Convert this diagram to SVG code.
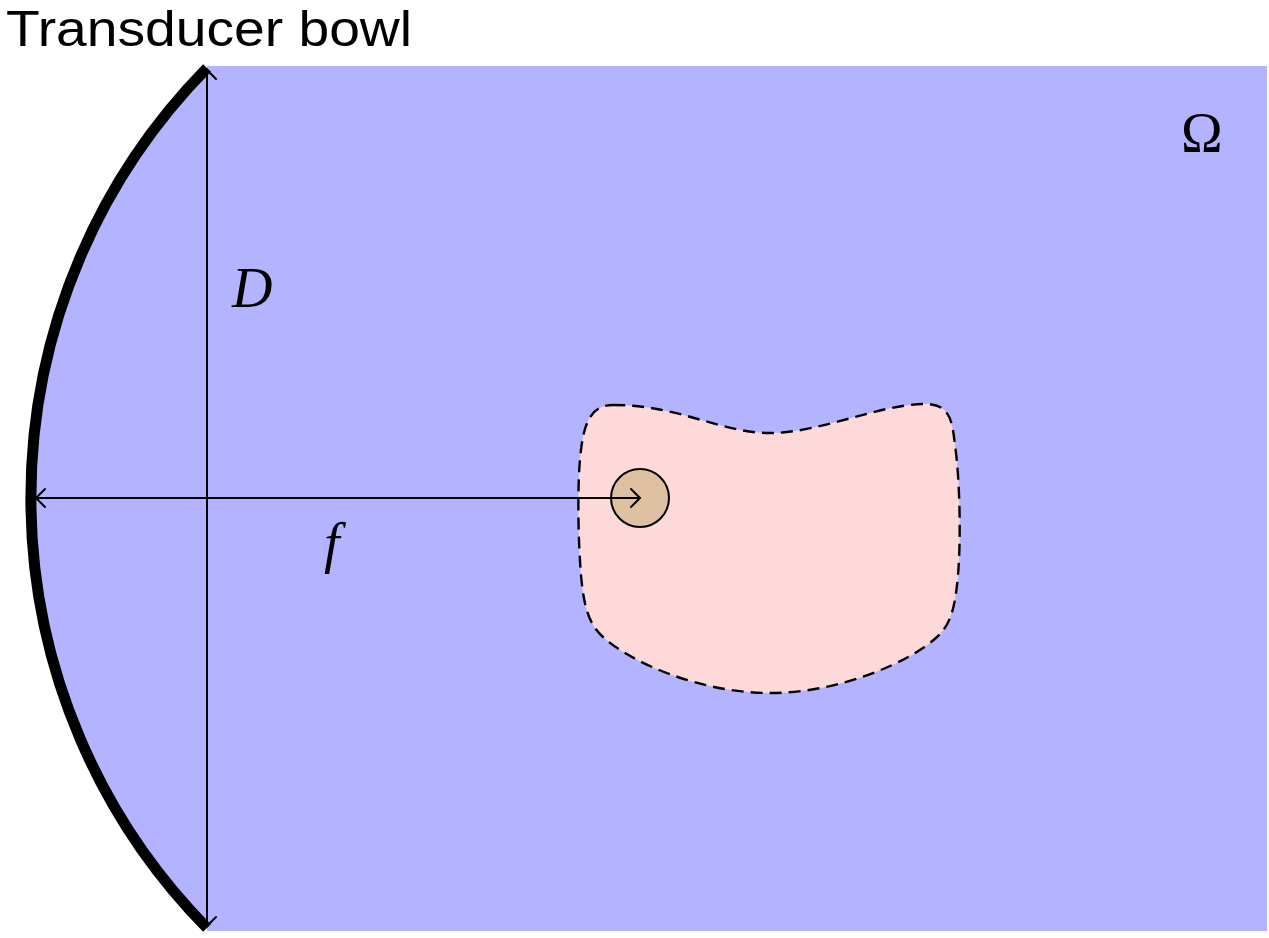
<svg xmlns="http://www.w3.org/2000/svg" width="1269" height="938" viewBox="0 0 1269 938">
  <style>
    .title { font-family: "Liberation Sans", Arial, sans-serif; font-size: 50px; fill: #000; }
    .math { font-family: "Liberation Serif", "Times New Roman", serif; fill: #000; }
    .it { font-style: italic; }
    .arrow { fill: none; stroke: #000; stroke-width: 2; marker-start: url(#head); marker-end: url(#head); }
  </style>
  <defs>
    <marker id="head" viewBox="-12 -11 14 22" refX="0" refY="0" markerWidth="14" markerHeight="22" markerUnits="userSpaceOnUse" orient="auto-start-reverse">
      <path d="M -9,-9 Q -2,-2 0,0 Q -2,2 -9,9" fill="none" stroke="#000" stroke-width="2" stroke-linecap="round"/>
    </marker>
  </defs>
  <rect width="1269" height="938" fill="#fff"/>
  <g id="domain">
    <path d="M 207,66 L 1267,66 L 1267,931 L 207,931 L 207,928 A 613 613 0 0 1 207,68 Z" fill="#b3b3ff"/>
  </g>
  <g id="region">
    <path d="M 613,405 C 680,405 720,433 770,433 C 820,433 880,404 925,404 C 950,404 952,420 955,445 C 960,480 961,540 958,575 C 955,610 950,625 937,637 C 910,662 840,693 770,693 C 700,693 630,662 603,637 C 590,625 584,610 581,575 C 578,540 577,480 581,450 C 584,425 590,405 613,405 Z" fill="#fdd9d9" stroke="#000" stroke-width="2.4" stroke-dasharray="12 7"/>
  </g>
  <g id="focus">
    <circle cx="640" cy="498" r="29" fill="#dfc0a0" stroke="#000" stroke-width="2"/>
  </g>
  <g id="bowl">
    <path d="M 207,68 A 613 613 0 0 0 207,928" fill="none" stroke="#000" stroke-width="11" stroke-linecap="butt"/>
  </g>
  <g id="connectors">
    <path class="arrow" d="M 207,70 L 207,926"/>
    <path class="arrow" d="M 36,498 L 640,498"/>
  </g>
  <g id="labels">
    <text class="title" x="6" y="46" textLength="406" lengthAdjust="spacingAndGlyphs">Transducer bowl</text>
    <text class="math" x="1181" y="152" font-size="56">Ω</text>
    <text class="math it" x="232" y="307" font-size="56">D</text>
    <text class="math it" x="324" y="562" font-size="56">f</text>
  </g>
</svg>
